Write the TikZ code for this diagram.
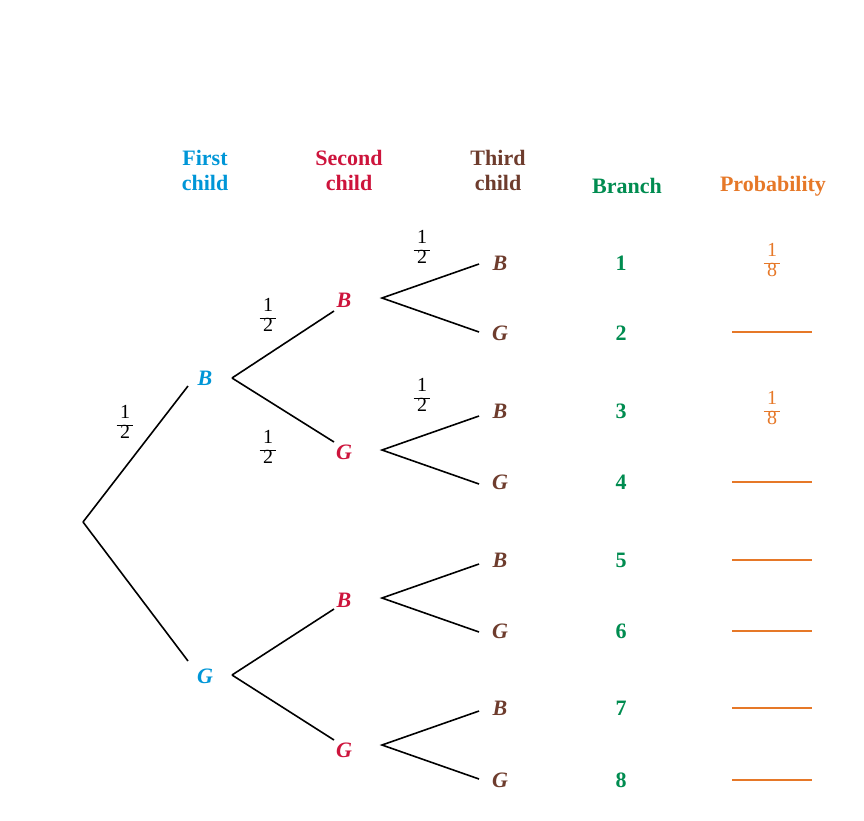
\documentclass[tikz,border=0pt]{standalone}
\usepackage{fontspec}
\setmainfont{Liberation Serif}
\definecolor{cblue}{RGB}{0,150,215}
\definecolor{cred}{RGB}{205,20,60}
\definecolor{cbrown}{RGB}{110,60,45}
\definecolor{cgreen}{RGB}{0,140,80}
\definecolor{corange}{RGB}{230,120,40}
\newcommand{\myfr}[2]{\setlength{\arrayrulewidth}{0.8pt}\renewcommand{\arraystretch}{0.85}\begin{tabular}{@{\,}c@{\,}}#1\\\hline #2\end{tabular}}
\begin{document}
\begin{tikzpicture}[x=1pt,y=-1pt,
  hdr/.style={font=\fontsize{22}{25}\selectfont\bfseries,align=center},
  lt/.style={font=\fontsize{22}{24}\selectfont\bfseries\itshape},
  num/.style={font=\fontsize{22}{24}\selectfont\bfseries,text=cgreen},
  fr/.style={font=\fontsize{20}{22}\selectfont,inner sep=0pt},
  br/.style={line width=1.6pt},
  pl/.style={line width=1.6pt,corange}]
\useasboundingbox (0,0) rectangle (864,820);
\node[hdr,text=cblue] (h1) at (205,170) {First\\child};
\node[hdr,text=cred] (h2) at (349,170) {Second\\child};
\node[hdr,text=cbrown] (h3) at (498,170) {Third\\child};
\node[hdr,text=cgreen] (h4) at (627,186) {Branch};
\node[hdr,text=corange] (h5) at (773,186) {Probability};
\coordinate (r) at (83,522);
\node[lt,text=cblue] (B1) at (205,378) {B};
\node[lt,text=cblue] (G1) at (205,676) {G};
\node[lt,text=cred] (BB) at (344,300) {B};
\node[lt,text=cred] (BG) at (344,452) {G};
\node[lt,text=cred] (GB) at (344,600) {B};
\node[lt,text=cred] (GG) at (344,750) {G};
\foreach \n/\y/\l in {1/263/B,2/333/G,3/411/B,4/482/G,5/560/B,6/631/G,7/708/B,8/780/G}{
  \node[lt,text=cbrown] (t\n) at (500,\y) {\l};
  \node[num] (n\n) at (621,\y) {\n};
}
\draw[br] (r) -- (188,386) (r) -- (188,661);
\draw[br] (232,378) -- (334,311) (232,378) -- (334,442);
\draw[br] (232,675) -- (334,609) (232,675) -- (334,740);
\foreach \y in {298,450,598,745}{
  \draw[br] (479,\y-34) -- (382,\y) -- (479,\y+34);
}
\node[fr] (f1) at (125,425) {\myfr{1}{2}};
\node[fr] (f2) at (268,318) {\myfr{1}{2}};
\node[fr] (f3) at (268,450) {\myfr{1}{2}};
\node[fr] (f4) at (422,250) {\myfr{1}{2}};
\node[fr] (f5) at (422,398) {\myfr{1}{2}};
\node[fr,text=corange] (p1) at (772,263) {\color{corange}\myfr{1}{8}};
\node[fr,text=corange] (p3) at (772,411) {\color{corange}\myfr{1}{8}};
\foreach \y in {332,482,560,631,708,780}{\draw[pl] (732,\y) -- (812,\y);}
\end{tikzpicture}
\end{document}
